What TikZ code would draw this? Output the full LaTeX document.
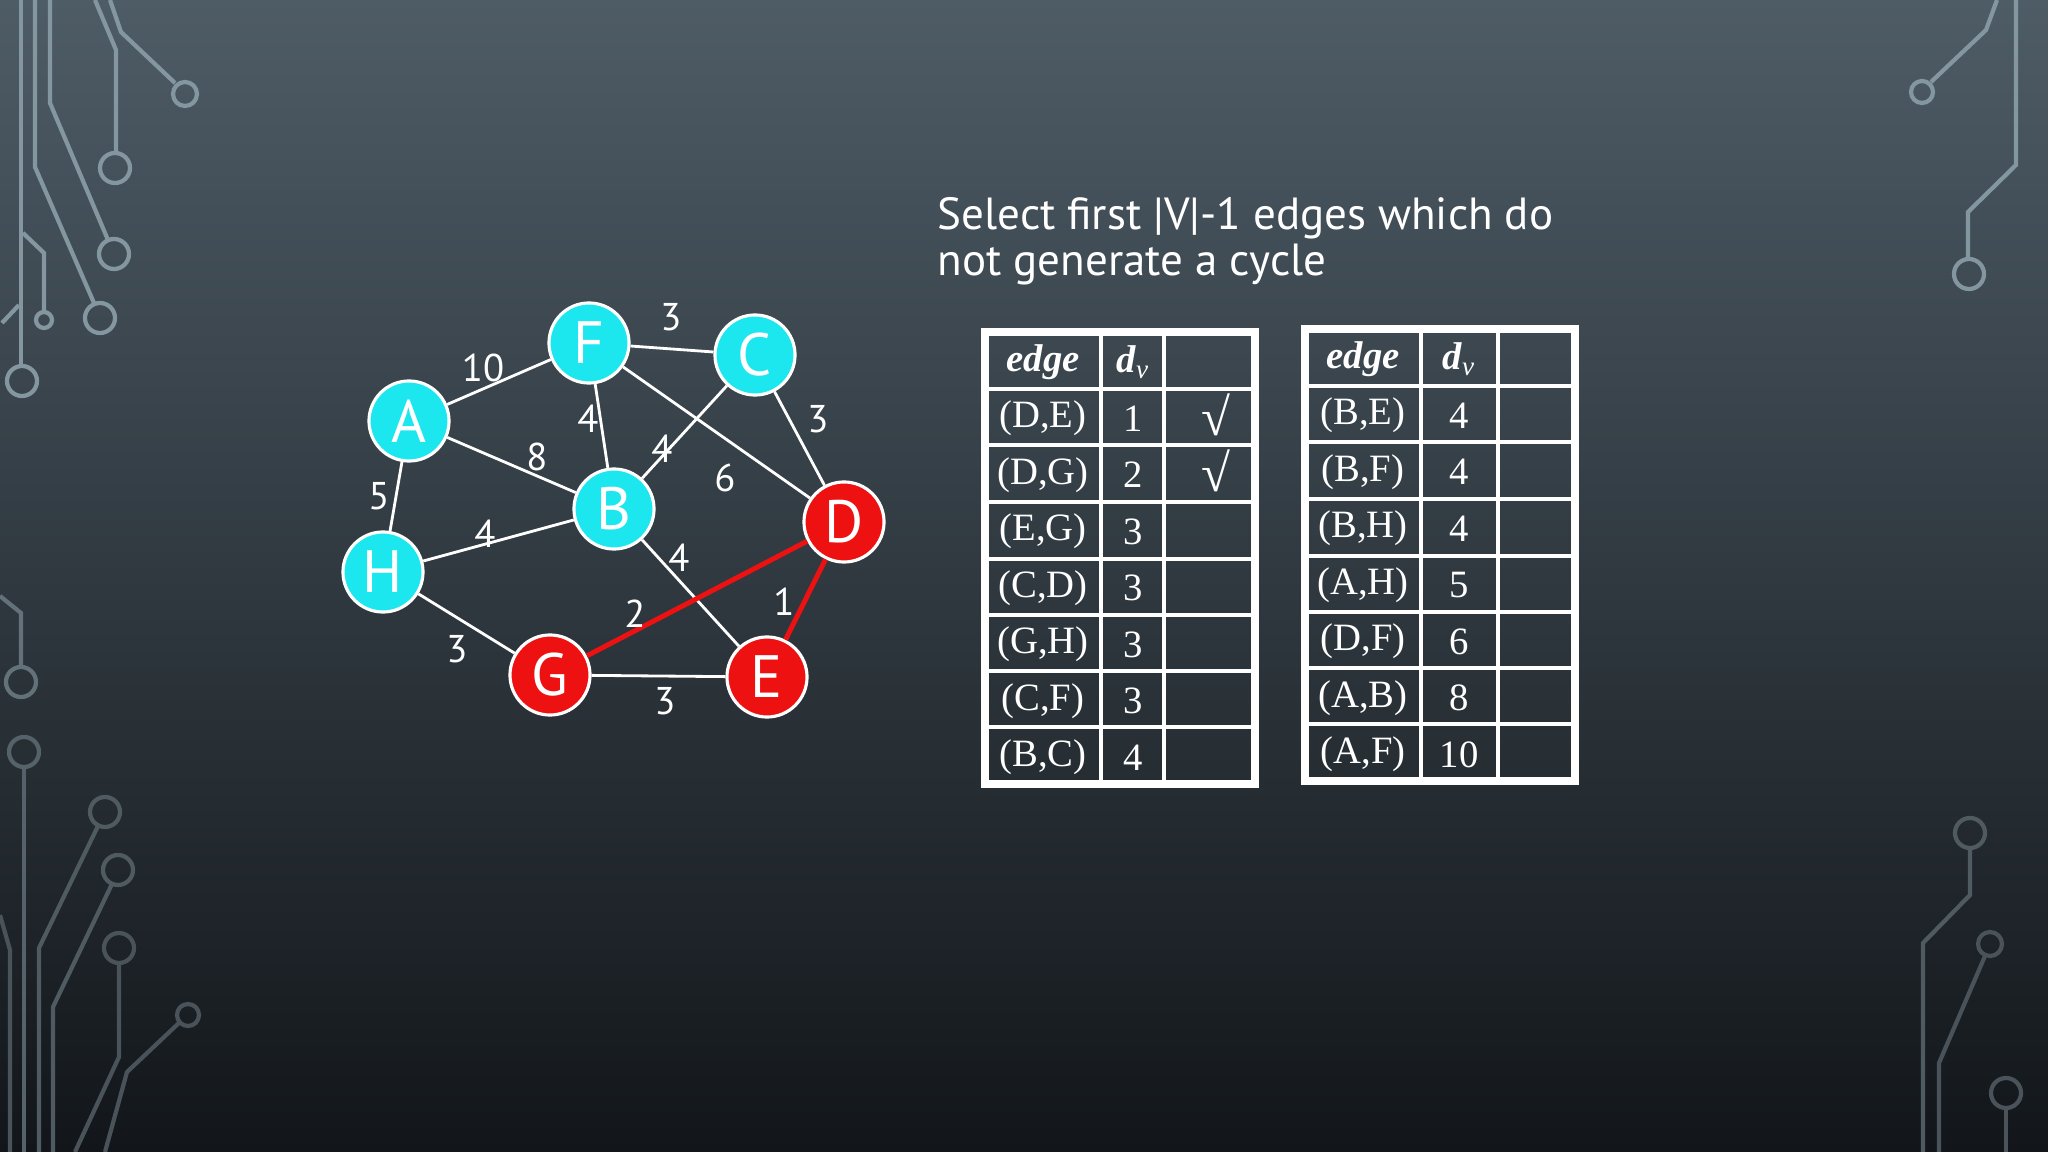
\documentclass[tikz,border=0pt]{standalone}
\usepackage{fontspec}
\setmainfont{Liberation Serif}
\newfontfamily\sansf{PT Sans}
\begin{document}
\begin{tikzpicture}[x=0.01cm,y=-0.01cm,
  circ/.style={draw=wire,line width=1.2pt},
  vtx/.style={circle,draw=white,line width=0.9pt,minimum size=0.8cm,inner sep=0pt,text=white,font=\sansf\fontsize{17}{17}\selectfont},
  cy/.style={vtx,fill=cyanv},
  rd/.style={vtx,fill=redv},
  edge/.style={draw=white,line width=0.8pt},
  redge/.style={draw=redv,line width=1.4pt},
  wl/.style={text=white,font=\sansf\fontsize{11}{11}\selectfont,inner sep=0pt},
  cell/.style={text=white,font=\fontsize{11}{12}\selectfont,inner sep=0pt}]
\definecolor{wire}{HTML}{8497A1}
\definecolor{cyanv}{HTML}{1CE6EE}
\definecolor{redv}{HTML}{EE1111}
\definecolor{bgtop}{HTML}{4E5C66}
\definecolor{bgmid}{HTML}{2E373E}
\definecolor{bgbot}{HTML}{12161A}
\useasboundingbox (0,0) rectangle (2048,1152);
\shade[top color=bgtop, middle color=bgmid, bottom color=bgbot] (0,0) rectangle (2048,1152);
% circuit lines left top
\draw[circ] (21,0) -- (21,366); \draw[circ] (22,381) circle (15);
\draw[circ] (35,0) -- (35,167) -- (94,303); \draw[circ] (100,318) circle (15);
\draw[circ] (50,0) -- (50,103) -- (108,240); \draw[circ] (114,254) circle (15);
\draw[circ] (95,0) -- (116,50) -- (116,153); \draw[circ] (115,168) circle (15);
\draw[circ] (110,0) -- (121,32) -- (175,83); \draw[circ] (185,94) circle (12);
\draw[circ] (23,233) -- (44,253) -- (44,312); \draw[circ] (44,320) circle (8);
\draw[circ] (2,323) -- (19,305);
% left bottom
\draw[circ,draw=wire!75!black] (0,596) -- (21,613) -- (21,667); \draw[circ,draw=wire!75!black] (21,682) circle (15);
\draw[circ,draw=wire!65!black] (24,767) -- (24,1152); \draw[circ,draw=wire!65!black] (24,752) circle (15);
\draw[circ,draw=wire!60!black] (98,826) -- (39,948) -- (39,1152); \draw[circ,draw=wire!60!black] (105,812) circle (15);
\draw[circ,draw=wire!60!black] (112,884) -- (53,1007) -- (53,1152); \draw[circ,draw=wire!60!black] (118,870) circle (15);
\draw[circ,draw=wire!55!black] (119,963) -- (119,1057) -- (75,1152); \draw[circ,draw=wire!55!black] (119,948) circle (15);
\draw[circ,draw=wire!55!black] (180,1022) -- (127,1072) -- (105,1152); \draw[circ,draw=wire!55!black] (188,1015) circle (11);
\draw[circ,draw=wire!55!black] (0,915) -- (10,950) -- (10,1152);
% right top
\draw[circ] (1997,0) -- (1986,30) -- (1931,82); \draw[circ] (1922,92) circle (11);
\draw[circ] (2016,0) -- (2016,165) -- (1968,212) -- (1968,259); \draw[circ] (1969,274) circle (15);
% right bottom
\draw[circ,draw=wire!60!black] (1970,848) -- (1970,895) -- (1923,943) -- (1923,1152); \draw[circ,draw=wire!60!black] (1970,833) circle (15);
\draw[circ,draw=wire!55!black] (1985,956) -- (1939,1063) -- (1939,1152); \draw[circ,draw=wire!55!black] (1990,944) circle (12);
\draw[circ,draw=wire!55!black] (2006,1108) -- (2006,1152); \draw[circ,draw=wire!55!black] (2006,1093) circle (15);

% graph
\node[cy] (F) at (589,343) {F};
\node[cy] (C) at (755,355) {C};
\node[cy] (A) at (409,421) {A};
\node[cy] (B) at (614,509) {B};
\node[rd] (D) at (844,522) {D};
\node[cy] (H) at (383,572) {H};
\node[rd] (G) at (550,675) {G};
\node[rd] (E) at (767,677) {E};
\draw[edge] (A) -- (F);
\draw[edge] (F) -- (C);
\draw[edge] (F) -- (B);
\draw[edge] (F) -- (D);
\draw[edge] (C) -- (B);
\draw[edge] (C) -- (D);
\draw[edge] (A) -- (B);
\draw[edge] (A) -- (H);
\draw[edge] (H) -- (B);
\draw[edge] (H) -- (G);
\draw[edge] (B) -- (E);
\draw[edge] (G) -- (E);
\draw[redge] (G) -- (D);
\draw[redge] (D) -- (E);
\node[wl] (l1) at (483,368) {10};
\node[wl] (l2) at (671,317) {3};
\node[wl] (l3) at (588,419) {4};
\node[wl] (l4) at (662,449) {4};
\node[wl] (l5) at (725,478) {6};
\node[wl] (l6) at (818,419) {3};
\node[wl] (l7) at (537,457) {8};
\node[wl] (l8) at (379,496) {5};
\node[wl] (l9) at (485,534) {4};
\node[wl] (l10) at (457,649) {3};
\node[wl] (l11) at (679,558) {4};
\node[wl] (l12) at (635,614) {2};
\node[wl] (l13) at (784,602) {1};
\node[wl] (l14) at (665,701) {3};

% title
\node[anchor=base west,text=white,font=\sansf\fontsize{12.8}{15}\selectfont,inner sep=0pt] (title) at (937,230) {Select first |V|-1 edges which do};
\node[anchor=base west,text=white,font=\sansf\fontsize{12.8}{15}\selectfont,inner sep=0pt] (title2) at (937,276) {not generate a cycle};

% table 1
\foreach \y in {389,445,502,559,615,671,727} \draw[white,line width=1pt] (985,\y) -- (1255,\y);
\foreach \x in {1101,1164} \draw[white,line width=1pt] (\x,332) -- (\x,784);
\draw[white,line width=2.2pt] (985,332) rectangle (1255,784);
\node[cell] (h1) at (1043,362) {\textbf{\textit{edge}}};
\node[cell] (h2) at (1133,362) {\textbf{\textit{d}}\textsubscript{\textit{v}}};
\foreach \t/\d/\c [count=\i] in {(D{,}E)/1/1,(D{,}G)/2/1,(E{,}G)/3/0,(C{,}D)/3/0,(G{,}H)/3/0,(C{,}F)/3/0,(B{,}C)/4/0}{
  \node[cell] (ta\i) at (1043,{332+56.5*\i+30}) {\t};
  \node[cell] (tb\i) at (1133,{332+56.5*\i+30}) {\d};
  \ifnum\c=1 \node[cell] (tc\i) at (1216,{332+56.5*\i+26}) {\fontsize{15}{15}\selectfont√}; \fi
}
% table 2
\foreach \y in {386,442,499,556,612,668,724} \draw[white,line width=1pt] (1305,\y) -- (1575,\y);
\foreach \x in {1421,1498} \draw[white,line width=1pt] (\x,329) -- (\x,781);
\draw[white,line width=2.2pt] (1305,329) rectangle (1575,781);
\node[cell] (k1) at (1363,359) {\textbf{\textit{edge}}};
\node[cell] (k2) at (1459,359) {\textbf{\textit{d}}\textsubscript{\textit{v}}};
\foreach \t/\d [count=\i] in {(B{,}E)/4,(B{,}F)/4,(B{,}H)/4,(A{,}H)/5,(D{,}F)/6,(A{,}B)/8,(A{,}F)/10}{
  \node[cell] (sa\i) at (1363,{329+56.5*\i+30}) {\t};
  \node[cell] (sb\i) at (1459,{329+56.5*\i+30}) {\d};
}
\end{tikzpicture}
\end{document}
